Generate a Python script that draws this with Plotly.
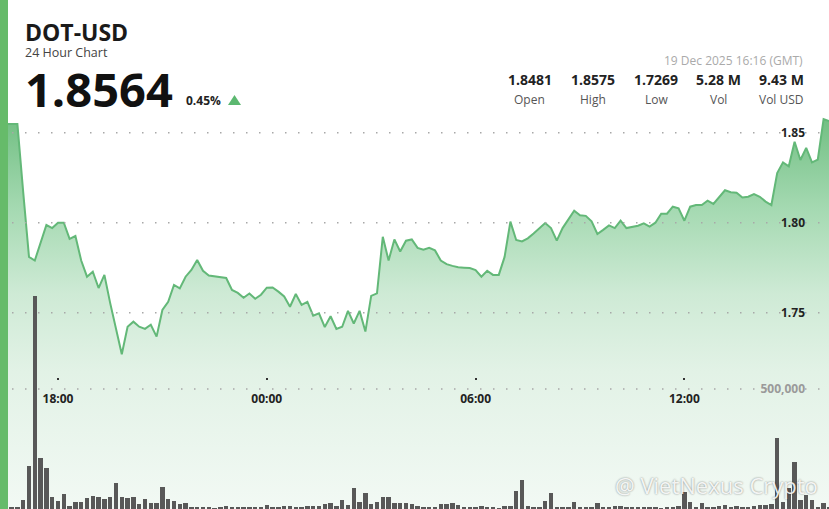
import plotly.graph_objects as go
import pandas as pd

# ---------------- data ----------------
price = [
    1.8548, 1.8548, 1.8548, 1.8170, 1.7810, 1.7790, 1.7887, 1.7987, 1.7970, 1.8000,
    1.8000, 1.7910, 1.7926, 1.7790, 1.7700, 1.7728, 1.7637, 1.7710, 1.7553, 1.7405,
    1.7269, 1.7422, 1.7450, 1.7422, 1.7410, 1.7433, 1.7367, 1.7515, 1.7561, 1.7654,
    1.7635, 1.7700, 1.7737, 1.7793, 1.7733, 1.7707, 1.7702, 1.7700, 1.7693, 1.7626,
    1.7610, 1.7583, 1.7607, 1.7577, 1.7600, 1.7639, 1.7640, 1.7617, 1.7590, 1.7533,
    1.7604, 1.7543, 1.7560, 1.7483, 1.7496, 1.7420, 1.7480, 1.7410, 1.7422, 1.7510,
    1.7440, 1.7510, 1.7395, 1.7593, 1.7607, 1.7922, 1.7790, 1.7907, 1.7840, 1.7900,
    1.7907,
    1.7860, 1.7850, 1.7860, 1.7846, 1.7790, 1.7770, 1.7760, 1.7752, 1.7750, 1.7748,
    1.7737, 1.7700, 1.7733, 1.7710, 1.7710, 1.7810, 1.8006, 1.7904, 1.7896, 1.7913,
    1.7940, 1.7970, 1.7998, 1.7970, 1.7900, 1.7970, 1.8015, 1.8067, 1.8041, 1.8038,
    1.8008, 1.7937, 1.7960, 1.7985, 1.7970, 1.8012, 1.7970, 1.7978, 1.7983, 1.7996,
    1.7978, 1.8000, 1.8050, 1.8050, 1.8089, 1.8080, 1.8011, 1.8089, 1.8098, 1.8098,
    1.8122, 1.8104, 1.8140, 1.8180, 1.8169, 1.8167, 1.8140, 1.8144, 1.8159, 1.8144,
    1.8117, 1.8098, 1.8276, 1.8335, 1.8313, 1.8450, 1.8348, 1.8415, 1.8335, 1.8350,
    1.8575, 1.8564,
]

volume = [
    30400, 9600, 7100, 37500, 179000, 887000, 211000, 172000, 51000, 35000,
    62500, 12500, 30400, 30400, 44600, 55400, 48800, 41700, 51300, 109600,
    48800, 47100, 51300, 20800, 40400, 26300, 26300, 90400, 41700, 33300,
    19600, 23800, 9600, 9600, 9600, 5400, 1500, 9600, 13800, 9600,
    9600, 9600, 7100, 9600, 9600, 16700, 7100, 9600, 12500, 13800,
    9600, 9600, 12500, 12500, 12500, 19600, 23800, 12500, 37500, 16700,
    88800, 27900, 67900, 19600, 27900, 51300, 51300, 26300, 26300, 23800,
    19600,
    12500, 9600, 9600, 9600, 20800, 19600, 26300, 16700, 9600, 9600,
    9600, 12500, 5400, 5400, 1500, 12500, 13800, 75000, 120800, 12500,
    9600, 5400, 33300, 67900, 5400, 5400, 9600, 27900, 5400, 5400,
    9600, 23800, 9600, 9600, 12500, 12500, 9600, 9600, 9600, 9600,
    9600, 5400, 1500, 9600, 9600, 12500, 72100, 27900, 9600, 26300,
    9600, 9600, 12500, 16700, 9600, 12500, 9600, 9600, 12500, 16700,
    16700, 19600, 294600, 30400, 86300, 197100, 37500, 58300, 37500, 9600,
    23800, 9600,
]

times = pd.date_range("2025-12-18 16:30", periods=len(price), freq="10min")

x_tick_times = ["2025-12-18 18:00", "2025-12-19 00:00", "2025-12-19 06:00", "2025-12-19 12:00"]
x_tick_labels = ["18:00", "00:00", "06:00", "12:00"]
price_ticks = [1.75, 1.80, 1.85]
price_tick_labels = ["1.75", "1.80", "1.85"]
vol_ticks = [500000]
vol_tick_labels = ["500,000"]

symbol = "DOT-USD"
subtitle = "24 Hour Chart"
last_price = "1.8564"
change_pct = "0.45%"
timestamp = "19 Dec 2025 16:16 (GMT)"
stat_values = ["1.8481", "1.8575", "1.7269", "5.28 M", "9.43 M"]
stat_labels = ["Open", "High", "Low", "Vol", "Vol USD"]
watermark = "@ VietNexus Crypto"

# ---------------- layout helpers ----------------
W, H = 829, 509
def px(x):
    return x / W
def py(y):
    return 1 - y / H

GREEN = "#66bb6a"
LINE = "#63b878"
FONT = "Open Sans"

fig = go.Figure()

fig.add_trace(go.Scatter(
    x=times, y=price, mode="lines",
    line=dict(color=LINE, width=2),
    fill="tozeroy",
    fillgradient=dict(
        type="vertical",
        start=1.641, stop=1.858,
        colorscale=[
            [0.0, "rgb(242,249,244)"],
            [0.35, "rgb(226,242,230)"],
            [0.55, "rgb(206,234,213)"],
            [0.77, "rgb(164,217,177)"],
            [1.0, "rgb(114,191,131)"],
        ],
    ),
    hoverinfo="skip", showlegend=False, yaxis="y",
))

fig.add_trace(go.Bar(
    x=times, y=volume,
    marker=dict(color="rgb(88,88,88)", line=dict(width=0)),
    width=7.8 * 60 * 1000,
    hoverinfo="skip", showlegend=False, yaxis="y2",
))

fig.update_layout(
    width=W, height=H,
    margin=dict(l=0, r=0, t=0, b=0),
    paper_bgcolor="white", plot_bgcolor="white",
    font=dict(family=FONT, color="#222"),
    bargap=0,
    xaxis=dict(
        domain=[px(8), 1],
        range=["2025-12-18 16:33:48", "2025-12-19 16:09:20"],
        anchor="free", position=py(377),
        tickmode="array", tickvals=x_tick_times, ticktext=x_tick_labels,
        ticks="outside", ticklen=2, tickwidth=2, tickcolor="#333",
        tickfont=dict(size=12, color="#222", family=FONT, weight="bold"),
        ticklabelstandoff=9,
        showgrid=False, zeroline=False, showline=False,
    ),
    yaxis=dict(
        domain=[0, 1],
        range=[1.64094, 1.92372],
        anchor="free", position=px(808), side="right",
        ticklabelposition="inside",
        tickmode="array", tickvals=price_ticks, ticktext=price_tick_labels,
        ticks="",
        tickfont=dict(size=12, color="#222", family=FONT, weight="bold"),
        showgrid=False, zeroline=False, showline=False,
    ),
    yaxis2=dict(
        overlaying="y",
        range=[0, 500000 * H / 120],
        anchor="free", position=px(808), side="right",
        ticklabelposition="inside",
        tickmode="array", tickvals=vol_ticks, ticktext=vol_tick_labels,
        ticks="",
        tickfont=dict(size=12, color="#9a9a9a", family=FONT, weight="bold"),
        showgrid=False, zeroline=False, showline=False,
    ),
)

ann = []
# title + subtitle as one two-line text block
ann.append(dict(
    x=px(24), y=py(62), xanchor="left", yanchor="bottom", align="left",
    text=(f"<span style='font-size:23px;color:#1a1a1a'><b>{symbol}</b></span>"
          f"<br>{subtitle}"),
    font=dict(size=12.5, color="#444", family=FONT), borderpad=0))
ann.append(dict(x=px(23), y=py(89), text=f"<b>{last_price}</b>", xanchor="left", yanchor="middle",
                font=dict(size=47, color="#111", family=FONT)))
ann.append(dict(x=px(184), y=py(100), text=f"<b>{change_pct}</b>", xanchor="left", yanchor="middle",
                font=dict(size=12, color="#222", family=FONT)))
ann.append(dict(x=px(805), y=py(60), text=timestamp, xanchor="right", yanchor="middle",
                font=dict(size=12, color="#aaaaaa", family=FONT)))
stat_centers = [529.5, 593, 656, 718.5, 781.5]
for cx, v, lab in zip(stat_centers, stat_values, stat_labels):
    ann.append(dict(x=px(cx), y=py(80), text=f"<b>{v}</b>", xanchor="center", yanchor="middle",
                    font=dict(size=14, color="#222", family=FONT)))
    ann.append(dict(x=px(cx), y=py(99), text=lab, xanchor="center", yanchor="middle",
                    font=dict(size=12, color="#555", family=FONT)))
ann.append(dict(x=px(820), y=py(485), text=watermark, xanchor="right", yanchor="middle",
                font=dict(size=22, color="rgba(255,255,255,0.9)", family=FONT,
                          shadow="0px 0px 2px rgba(0,0,0,0.55)")))
for a in ann:
    a.update(xref="paper", yref="paper", showarrow=False)
fig.update_layout(annotations=ann)

grid_line = dict(color="#a8a8a8", width=1.5, dash="1.5px,11.5px")
shapes = []
for v in price_ticks:
    shapes.append(dict(type="line", xref="paper", yref="y", x0=px(12), x1=1, y0=v, y1=v,
                       line=grid_line, layer="above"))
for v in vol_ticks:
    shapes.append(dict(type="line", xref="paper", yref="y2", x0=px(12), x1=1, y0=v, y1=v,
                       line=grid_line, layer="above"))
shapes += [
    dict(type="rect", xref="paper", yref="paper", x0=0, x1=px(8), y0=0, y1=1,
         fillcolor=GREEN, line=dict(width=0), layer="above"),
    dict(type="path", xref="paper", yref="paper",
         path=f"M {px(228)},{py(105)} L {px(241)},{py(105)} L {px(234.5)},{py(95)} Z",
         fillcolor="#5cb870", line=dict(width=0), layer="above"),
]
fig.update_layout(shapes=shapes)

fig.write_html("out.html", config={"displayModeBar": False},
               post_script="document.body.style.margin='0px';")
